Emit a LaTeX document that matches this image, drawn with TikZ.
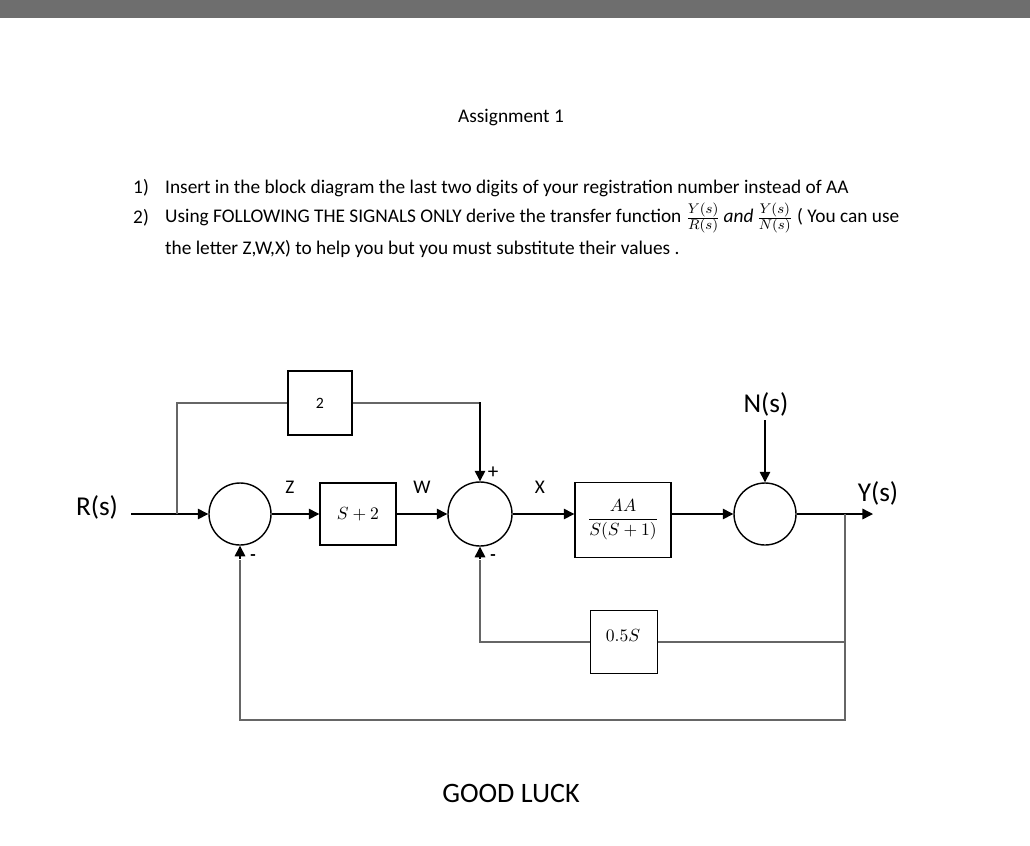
\documentclass[tikz,border=0pt]{standalone}
\usepackage{fontspec}
\setmainfont{Carlito}
\usepackage{amsmath}
\usetikzlibrary{arrows.meta}
\begin{document}
\begin{tikzpicture}[x=0.02cm,y=-0.02cm,
  blk/.style={draw,thick,inner sep=0pt},
  sig/.style={thick,-{Triangle[length=6pt,width=6pt]}},
  fb/.style={draw=black!60,semithick},
  lbl/.style={font=\fontsize{11}{13}\selectfont},
  big/.style={font=\fontsize{15.5}{18}\selectfont}]
\def\pxu{*0.02cm}
\useasboundingbox (0,0) rectangle (1030,845);
\fill[black!57] (0,0) rectangle (1030,18);
\node[lbl] (title) at (511,118) {Assignment 1};
\node[lbl,anchor=west] (n1) at (127,188) {1)};
\node[lbl,anchor=west] (t1) at (159,188) {Insert in the block diagram the last two digits of your registration number instead of AA};
\node[lbl,anchor=west] (n2) at (127,218) {2)};
\node[lbl,anchor=west] (t2) at (159,218) {Using FOLLOWING THE SIGNALS ONLY derive the transfer function $\frac{Y(s)}{R(s)}\,\mathit{and}\,\frac{Y(s)}{N(s)}$ ( You can use};
\node[lbl,anchor=west] (t3) at (159,249) {the letter Z,W,X) to help you but you must substitute their values .};
\node[blk,minimum width=64\pxu,minimum height=64\pxu,font=\small] (b2) at (320,403) {2};
\node[draw,thick,circle,minimum size=62*0.02cm,inner sep=0pt] (s1) at (240,514) {};
\node[blk,minimum width=76\pxu,minimum height=62\pxu] (bs) at (358,514) {$S+2$};
\node[draw,thick,circle,minimum size=64*0.02cm,inner sep=0pt] (s2) at (480,514) {};
\node[blk,minimum width=96\pxu,minimum height=75\pxu] (bg) at (623,520) {$\dfrac{AA}{S(S+1)}$};
\node[draw,thick,circle,minimum size=62*0.02cm,inner sep=0pt] (s3) at (765,514) {};
\node[blk,minimum width=67\pxu,minimum height=63\pxu,anchor=north west] (bh) at (590,610) {};
\node (bht) at (623,635) {$0.5S$};
\node[big] (R) at (97,507) {R(s)};
\node[big] (N) at (766,404) {N(s)};
\node[big] (Y) at (878,493) {Y(s)};
\node[lbl] (Z) at (290,487) {Z};
\node[lbl] (W) at (422,487) {W};
\node[lbl] (X) at (540,487) {X};
\node[font=\large] (p) at (493,473) {+};
\node[font=\bfseries] (m1) at (253,558) {-};
\node[font=\bfseries] (m2) at (493,558) {-};
\node[font=\fontsize{16}{19}\selectfont] (gl) at (511,793) {GOOD LUCK};
\coordinate (r0) at (131,514);
\coordinate (br) at (177,514);
\coordinate (yo) at (873,514);
\coordinate (yb) at (845,514);
\coordinate (n0) at (765,420);
% forward
\draw[sig] (r0) -- (s1.west);
\draw[sig] (s1.east) -- (bs.west);
\draw[sig] (bs.east) -- (s2.west);
\draw[sig] (s2.east) -- (bg.west |- s2.east);
\draw[sig] (bg.east |- s3.west) -- (s3.west);
\draw[sig] (s3.east) -- (yo);
\draw[sig] (n0) -- (s3.north);
% feedforward via 2
\draw[fb] (br) |- (b2.west);
\draw[fb] (b2.east) -- (480,403);
\draw[sig] (480,402) -- (s2.north);
% feedback 0.5S
\draw[fb] (yb) |- (bh.east |- 0,642);
\draw[fb] (bh.west |- 0,642) -| (480,560);
\draw[sig] (480,559) -- (s2.south);
% unity feedback
\draw[fb] (yb) |- (240,720) -- (240,560);
\draw[sig] (240,559) -- (s1.south);
\end{tikzpicture}
\end{document}
